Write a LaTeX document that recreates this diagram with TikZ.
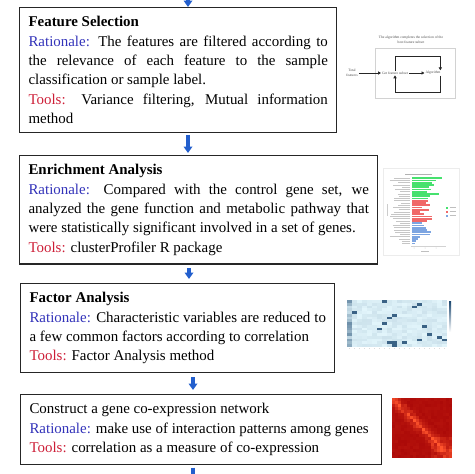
\documentclass[tikz,border=0pt]{standalone}
\usepackage{fontspec}
\setmainfont{Liberation Serif}
\usetikzlibrary{arrows.meta}

\hyphenpenalty=10000
\exhyphenpenalty=10000

\definecolor{ratblue}{RGB}{50,50,185}
\definecolor{toolred}{RGB}{205,30,55}
\definecolor{arrowblue}{RGB}{35,95,205}
\definecolor{bargreen}{RGB}{70,225,110}
\definecolor{barred}{RGB}{240,105,105}
\definecolor{barblue}{RGB}{125,165,225}
\definecolor{palecyan}{RGB}{226,245,251}
\definecolor{heatnavy}{RGB}{28,72,112}
\definecolor{deepred}{RGB}{172,10,8}
\definecolor{hotred}{RGB}{255,85,45}

\tikzset{
	stage/.style={draw=black!85, line width=1.1pt, anchor=north west, align=justify,
		inner xsep=6.6pt, inner ysep=6.5pt, font=\fontsize{11.2}{14.5}\selectfont},
	flowarrow/.style={draw=arrowblue, line width=2.3pt, -{Triangle[width=6.4pt,length=4.8pt]}},
	flowline/.style={draw=arrowblue, line width=2.3pt},
	minitext/.style={font=\fontsize{2.7}{3.6}\selectfont, text=black!70, inner sep=0.6pt, align=center},
	minarrow/.style={draw=black!85, line width=0.7pt, -{Triangle[width=2.4pt,length=2.2pt]}},
	labelmark/.style={draw=gray!45, line width=0.35pt}
}

\begin{document}
\begin{tikzpicture}[x=0.75pt, y=-0.75pt]

	\useasboundingbox(0,0) rectangle (474,474);

	\node[stage, text width=224.5pt] (featsel) at(19,7){\textbf{Feature Selection}\\
		\textcolor{ratblue}{Rationale:} The features are filtered according to\linebreak the relevance of each feature to the sample classification or sample label.\\
		\textcolor{toolred}{Tools:} Variance filtering, Mutual information method};

	\node[stage, text width=255.3pt] (enrich) at(19,155){\textbf{Enrichment Analysis}\\
		\textcolor{ratblue}{Rationale:} Compared with the control gene set, we analyzed the gene function and metabolic pathway that were statistically significant involved in a set of genes.\\
		\textcolor{toolred}{Tools:} clusterProfiler R package};

	\node[stage, text width=222.3pt] (factor) at(20,283){\textbf{Factor Analysis}\\
		\textcolor{ratblue}{Rationale:} Characteristic variables are reduced to a few common factors according to correlation\\
		\textcolor{toolred}{Tools:} Factor Analysis method};

	\node[stage, text width=257.5pt] (coexp) at(20,394){Construct a gene co-expression network\\
		\textcolor{ratblue}{Rationale:} make use of interaction patterns among genes\\
		\textcolor{toolred}{Tools:} correlation as a measure of co-expression};

	\coordinate (axisA) at(188,0);
	\coordinate (axisB) at(189,0);
	\coordinate (axisC) at(193,0);
	\coordinate (next) at(193,474);

		\draw[flowarrow](axisA) to (featsel.north -| axisA);
		\draw[flowarrow, shorten <=1.5pt, shorten >=1.5pt](featsel.south -| axisA) to (enrich.north -| axisA);
		\draw[flowarrow, shorten <=2.5pt, shorten >=3pt](enrich.south -| axisB) to (factor.north -| axisB);
		\draw[flowarrow, shorten <=3pt, shorten >=3pt](factor.south -| axisC) to (coexp.north -| axisC);
		\draw[flowline, shorten <=2pt](coexp.south -| axisC) to (next);

	% wrapper scheme
	\draw[gray!35, line width=0.4pt](375,48) rectangle (455,98);
	\node[minitext] (wraphead) at(411,40){The algorithm completes the selection of the\\best feature subset};
	\node[minitext] (total) at(352,73){Total\\features};
	\node[minitext] (subset) at(395,73){Get feature subset};
	\node[minitext] (algo) at(433,73){Algorithm};
		\draw[minarrow](total) to (subset);
		\draw[minarrow](subset) to (algo);
		\draw[minarrow](subset.north) -- ++(0,-14) -| ([xshift=5.5pt]algo.north);
		\draw[minarrow]([xshift=5.5pt]algo.south) -- ++(0,17) -| (subset.south);

	% enrichment bars
	\pgfmathsetseed{11}
	\draw[gray!15, line width=0.3pt](383,168) rectangle (459,255);
	\draw[gray!60, line width=0.6pt](405,174) to (432,174);
	\foreach \len [count=\k] in {30,24,20,22,17,19,15,27,18,16}{
		\pgfmathsetmacro\yy{175+2.25*\k}
		\pgfmathsetmacro\lab{7+14*rnd}
		\fill[bargreen](412,\yy) rectangle ++(\len,1.75);
		\draw[labelmark](410-\lab,\yy+0.9) to (410,\yy+0.9);
	}
	\foreach \len [count=\k] in {16,14,18,10,17,8,12,20,20,15}{
		\pgfmathsetmacro\yy{197.5+2.25*\k}
		\pgfmathsetmacro\lab{7+14*rnd}
		\fill[barred](412,\yy) rectangle ++(\len,1.75);
		\draw[labelmark](410-\lab,\yy+0.9) to (410,\yy+0.9);
	}
	\foreach \len [count=\k] in {10,12,14,15,19,18,8,6,4,3}{
		\pgfmathsetmacro\yy{220+2.25*\k}
		\pgfmathsetmacro\lab{7+14*rnd}
		\fill[barblue](412,\yy) rectangle ++(\len,1.75);
		\draw[labelmark](410-\lab,\yy+0.9) to (410,\yy+0.9);
	}
	\draw[gray!40, line width=0.4pt](387,204) to (387,216);
	\draw[gray!35, line width=0.3pt](411,246) to (446,246);
	\foreach \tx in {414,425,436}
		\fill[gray!45](\tx,248) circle (0.5);
	\draw[gray!50, line width=0.5pt](421,251) to (429,251);
	\foreach \ly/\lc in {207/bargreen,211/barred,215/barblue}{
		\fill[\lc](446,\ly) rectangle ++(2,1.5);
		\draw[gray!50, line width=0.4pt](449.5,\ly+0.75) to (456,\ly+0.75);
	}

	% factor loading map
	\pgfmathsetseed{5}
	\foreach \r in {0,...,16}{
		\foreach \c in {0,...,19}{
			\pgfmathsetmacro\pick{rnd}
			\pgfmathsetmacro\tone{\c==0 ? 10+50*rnd : (\pick>0.94 ? 85 : 11*rnd)}
			\fill[heatnavy!\tone!palecyan](347+5*\c,300+2.75*\r) rectangle ++(5,2.75);
		}
	}
	\shade[top color=heatnavy, bottom color=white](449,301) rectangle (451,332);
	\foreach \c in {0,...,19}
		\fill[gray!45](349.5+5*\c,348.5) circle (0.35);

	% co-expression map
	\pgfmathsetseed{21}
	\foreach \r in {0,...,19}{
		\foreach \c in {0,...,19}{
			\pgfmathsetmacro\glow{min(100,max(0,1-abs(\r-\c)/3.5)*(20+80*rnd) + ((\r>12 && \c>12) ? 40*rnd : 0) + 10*rnd)}
			\fill[hotred!\glow!deepred](392+3*\c,398+3*\r) rectangle ++(3.05,3.05);
		}
	}

\end{tikzpicture}
\end{document}
